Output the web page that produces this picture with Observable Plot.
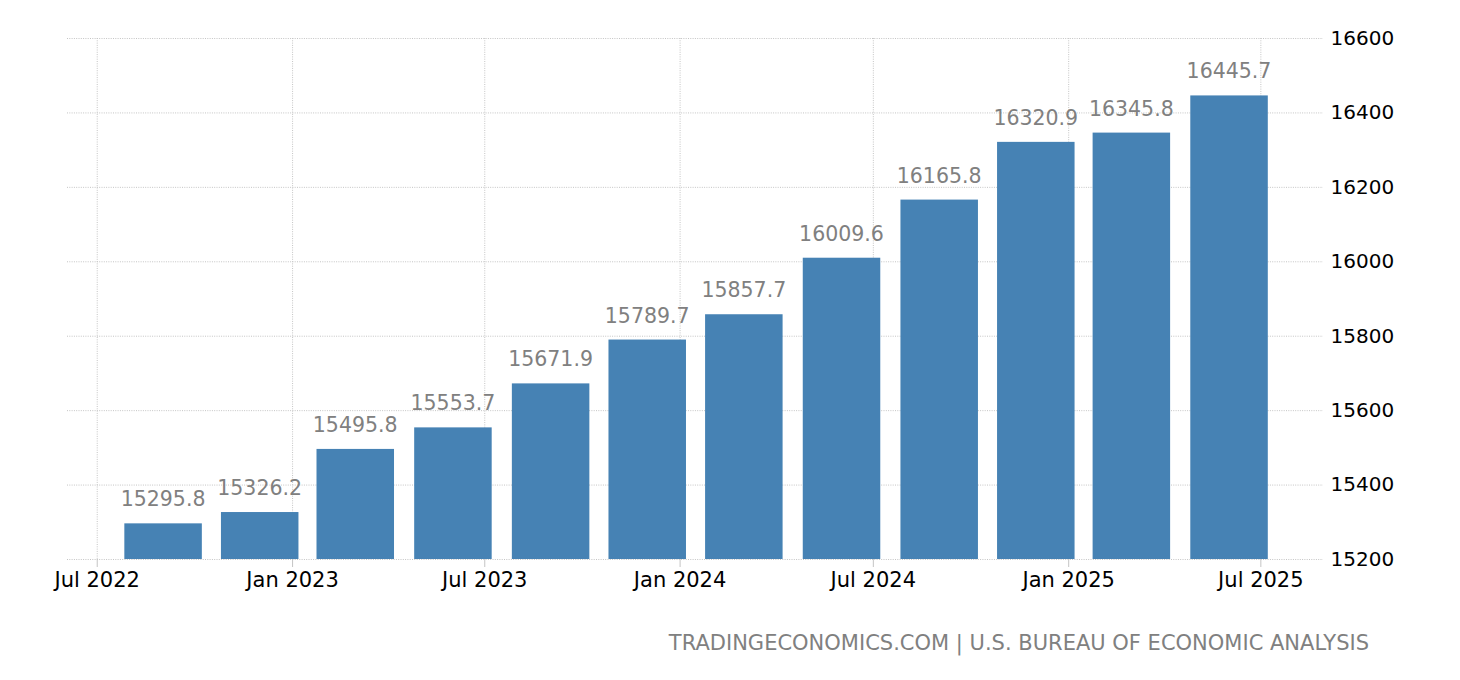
<!DOCTYPE html>
<html>
<head>
<meta charset="utf-8">
<script src="https://cdn.jsdelivr.net/npm/d3@7"></script>
<script src="https://cdn.jsdelivr.net/npm/@observablehq/plot@0.6"></script>
<style>
  html, body { margin: 0; padding: 0; background: #fff; }
  body { width: 1460px; height: 680px; overflow: hidden; font-family: "DejaVu Sans", sans-serif; }
  #caption { margin-top: 31px; height: 24px; line-height: 24px; font-size: 21px; color: #808080; text-align: right; padding-right: 91px; white-space: nowrap; }
</style>
</head>
<body>
<div id="chart"></div>
<div id="caption">TRADINGECONOMICS.COM | U.S. BUREAU OF ECONOMIC ANALYSIS</div>
<script>
// Quarterly values (dates as plotted)
const dates = ["2022-09-01","2022-12-01","2023-03-01","2023-06-01","2023-09-01","2023-12-01",
               "2024-03-01","2024-06-01","2024-09-01","2024-12-01","2025-03-01","2025-06-01"];
const values = [15295.8, 15326.2, 15495.8, 15553.7, 15671.9, 15789.7,
                15857.7, 16009.6, 16165.8, 16320.9, 16345.8, 16445.7];
const xTicks = ["2022-07-01","2023-01-01","2023-07-01","2024-01-01","2024-07-01","2025-01-01","2025-07-01"];
const yTicks = [15200, 15400, 15600, 15800, 16000, 16200, 16400, 16600];

const data = dates.map((d, i) => ({date: new Date(d), value: values[i]}));
const xTickDates = xTicks.map(d => new Date(d));
const yBase = yTicks[0];

const grid = {stroke: "#c4c4c4", strokeOpacity: 1, strokeDasharray: "1,1.3"};

const chart = Plot.plot({
  width: 1460,
  height: 600,
  marginTop: 38,
  marginBottom: 41,
  marginLeft: 67,
  marginRight: 137,
  style: {fontFamily: "DejaVu Sans, sans-serif", fontSize: "20px", background: "#fff", overflow: "visible"},
  x: {type: "utc", domain: [new Date("2022-06-03"), new Date("2025-08-29")]},
  y: {domain: [yTicks[0], yTicks[yTicks.length - 1]]},
  marks: [
    Plot.gridY(yTicks, grid),
    Plot.gridX(xTickDates, grid),
    Plot.rect(data, {
      x1: d => d3.utcDay.offset(d.date, -36),
      x2: d => d3.utcDay.offset(d.date, 37),
      y1: () => yBase,
      y2: "value",
      fill: "#4682b4"
    }),
    Plot.text(data, {
      x: "date", y: "value",
      text: d => d.value.toFixed(1),
      dy: -24, lineAnchor: "middle",
      fill: "#808080", fontSize: 20.5
    }),
    Plot.axisX(xTickDates, {
      tickSize: 8, stroke: "#c4c4c4", strokeOpacity: 1,
      tickPadding: 5, fill: "#000", fontSize: 21,
      tickFormat: d3.utcFormat("%b %Y"), label: null
    }),
    Plot.axisY(yTicks, {
      anchor: "right", tickSize: 0, tickPadding: 7,
      fill: "#000", fontSize: 20, label: null,
      tickFormat: d => String(d)
    })
  ]
});
document.getElementById("chart").appendChild(chart);
</script>
</body>
</html>
